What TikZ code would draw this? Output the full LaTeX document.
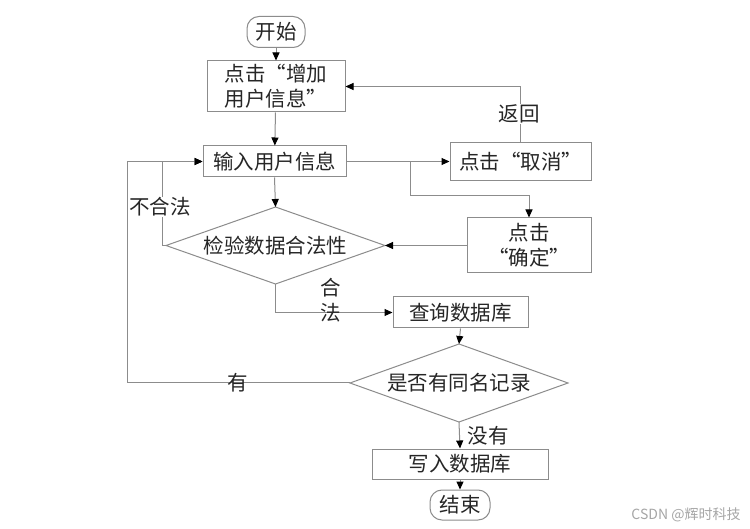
\documentclass[tikz,border=0pt]{standalone}
\usepackage{fontspec}
\setmainfont{Noto Sans CJK SC}
\usetikzlibrary{arrows.meta}
\tikzset{
  line/.style={draw=black!45, line width=1pt},
  arr/.style={line, -{Triangle[length=8pt,width=7pt,color=black]}},
  box/.style={line, rectangle, inner sep=0pt, align=center, text=black!85},
  term/.style={box, rounded corners=12pt},
  lbl/.style={inner sep=1pt, text=black!85, align=center}
}
\begin{document}
\begin{tikzpicture}[x=1pt, y=-1pt, font=\fontsize{20.5}{25}\selectfont]
\useasboundingbox[fill=white] (0,0) rectangle (750,529);

% process and terminal nodes
\node[term, minimum width=58, minimum height=31] (start) at (276,32) {开始};
\node[box, minimum width=138, minimum height=51] (add) at (276,86.5) {点击“增加\\用户信息”};
\node[box, minimum width=143, minimum height=31] (input) at (274.5,161.5) {输入用户信息};
\node[box, minimum width=141, minimum height=38] (cancel) at (520.5,162) {点击“取消”};
\node[box, minimum width=124, minimum height=55] (confirm) at (529,245.5) {点击\\“确定”};
\node[box, minimum width=135, minimum height=31] (query) at (460.5,312.5) {查询数据库};
\node[box, minimum width=176, minimum height=30] (write) at (460,464) {写入数据库};
\node[term, minimum width=60, minimum height=30] (end) at (460,505) {结束};

% decision: validity check
\node[lbl] (check) at (275.5,245.5) {检验数据合法性};
\coordinate (checkN) at (275.5,207);
\coordinate (checkS) at (275.5,284);
\coordinate (checkW) at (166,245.5);
\coordinate (checkE) at (385,245.5);
\draw[line] (checkN) -- (checkE) -- (checkS) -- (checkW) -- cycle;

% decision: duplicate name
\node[lbl] (dup) at (459,383) {是否有同名记录};
\coordinate (dupN) at (459,344);
\coordinate (dupS) at (459,422);
\coordinate (dupW) at (350,383);
\coordinate (dupE) at (568,383);
\draw[line] (dupN) -- (dupE) -- (dupS) -- (dupW) -- cycle;

\coordinate (fork) at (410,161.5);

% connectors
\draw[arr] (start) -- (add);
\draw[arr] (add) -- (input);
\draw[arr] (input.east) -- (cancel.west |- input.east);
\draw[arr] (fork) -- ++(0,34.5) -| (confirm.north);
\draw[arr] (cancel.north) |- (add.east);
\draw[arr] (confirm.west) -- (checkE);
\draw[arr] (input.south) -- (checkN);
\draw[arr] (checkW) -- ++(-4,0) |- (input.west);
\draw[arr] (checkS) |- (query.west);
\draw[arr] (query.south) -- (dupN);
\draw[arr] (dupW) -- (127,383) |- (input.west);
\draw[arr] (dupS) -- (write.north);
\draw[arr] (write) -- (end);

% branch labels
\node[lbl, fill=white] (back) at (519,114) {返回};
\node[lbl, fill=white] (bad) at (160,207) {不合法};
\node[lbl] (ok) at (331,300) {合\\法};
\node[lbl] (yes) at (238,383) {有};
\node[lbl] (no) at (488,436) {没有};

\node[text=black!35, font=\fontsize{14}{16}\selectfont] (mark) at (686,515) {CSDN @辉时科技};
\end{tikzpicture}
\end{document}
